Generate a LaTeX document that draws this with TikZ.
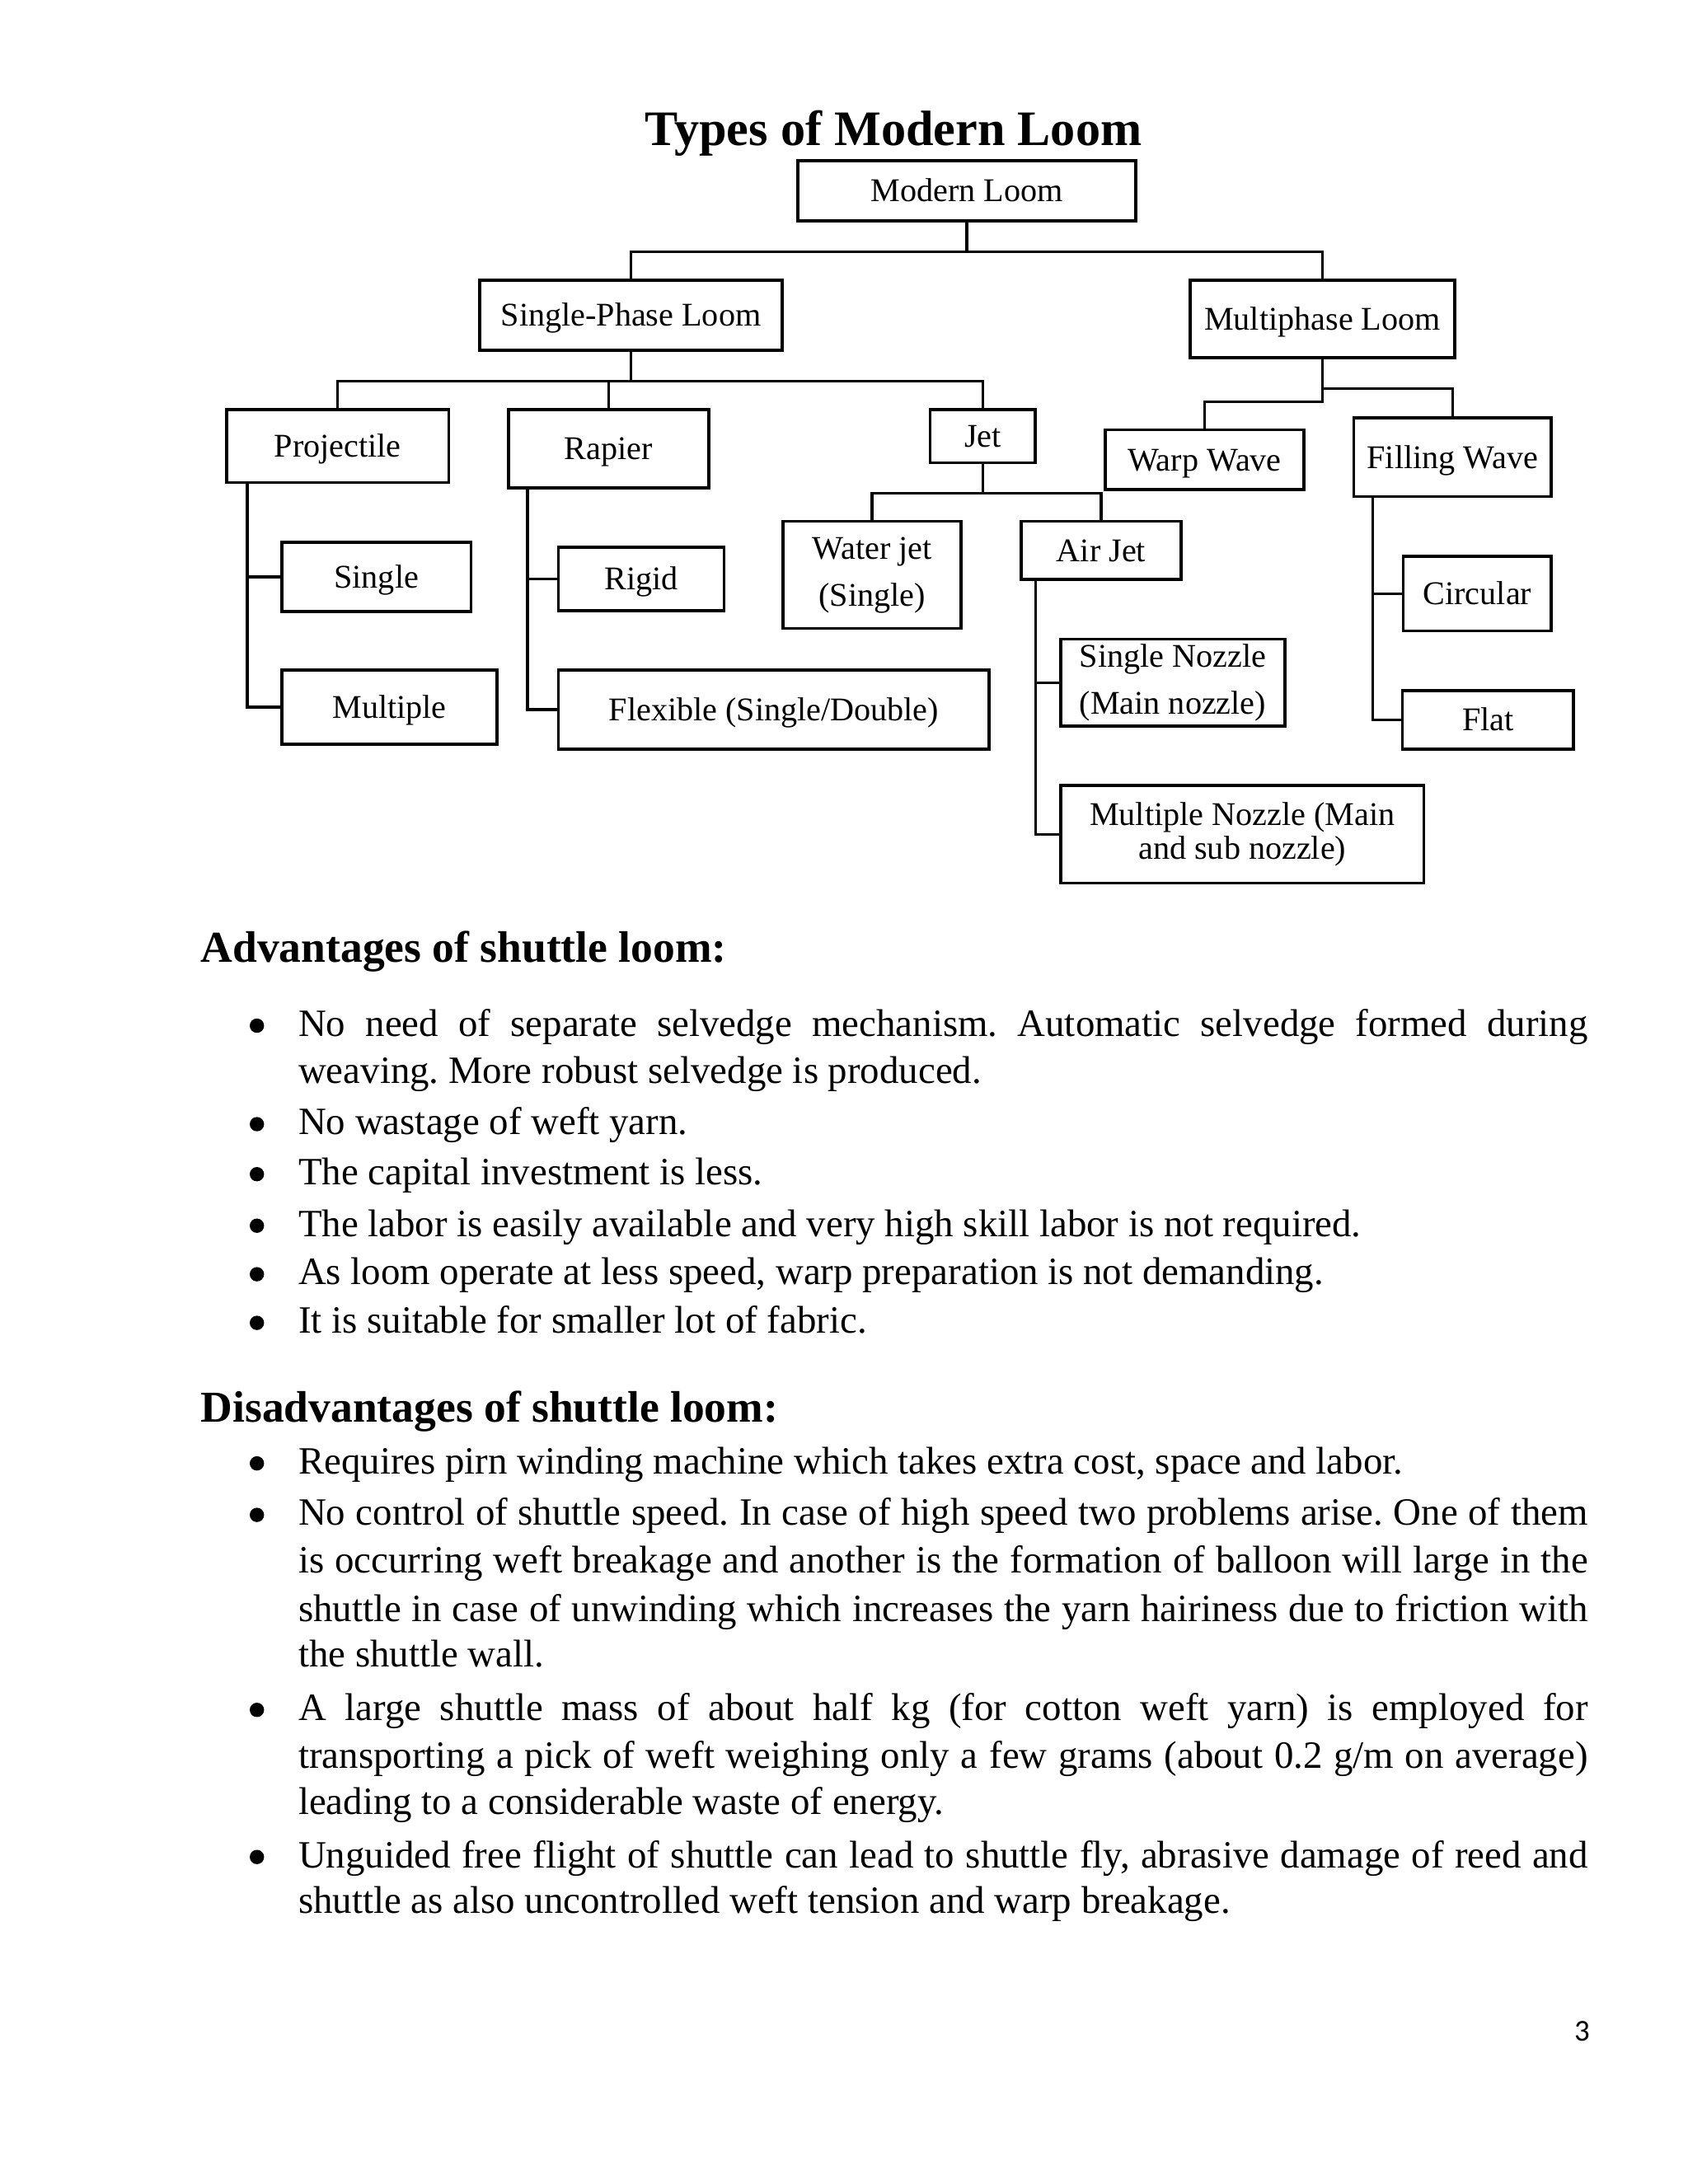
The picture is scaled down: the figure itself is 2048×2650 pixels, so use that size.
\documentclass[tikz,border=0pt]{standalone}
\usepackage{fontspec}
\setmainfont{Liberation Serif}
\newfontfamily\pgnumfont{Carlito}
\newcommand\JL[1]{\makebox[467.5pt][s]{#1}}
\frenchspacing
\begin{document}
\frenchspacing
\begin{tikzpicture}[x=0.298828pt, y=-0.298828pt,
  box/.style={draw, line width=1pt, inner sep=0pt, font=\fontsize{12pt}{17pt}\selectfont},
  one/.style={text height=8pt, text depth=0pt},
  sz/.style 2 args={minimum width={#1*0.298828pt}, minimum height={#2*0.298828pt}},
  conn/.style={line width=1pt},
  ln/.style={anchor=base west, inner sep=0pt, font=\fontsize{14pt}{16pt}\selectfont},
  hd/.style={anchor=base west, inner sep=0pt, font=\bfseries\fontsize{16pt}{18pt}\selectfont},
  bul/.style={circle, fill, inner sep=0pt, minimum size=5.2pt}
]
\fill[white] (0,0) rectangle (2048,2650);
\useasboundingbox (0,0) rectangle (2048,2650);

% title
\node[anchor=base, inner sep=0pt, font=\bfseries\fontsize{18pt}{20pt}\selectfont] (title) at (1084,176.7) {Types of Modern Loom};

% tree boxes
\node[box,one,sz={410}{73}] (ml) at (1173,231.5) {Modern Loom};
\node[box,one,sz={367}{85}] (sp) at (765.5,382.5) {Single-Phase Loom};
\node[box,one,sz={321}{94}] (mp) at (1604.5,387) {Multiphase Loom};
\node[box,one,sz={269.5}{88.7}] (pj) at (409.7,541.3) {Projectile};
\node[box,one,sz={243}{95}] (ra) at (738.5,544.5) {Rapier};
\node[box,one,sz={127.3}{64.7}] (jt) at (1192.3,529.3) {Jet};
\node[box,one,sz={241}{72.3}] (ww) at (1461.5,557.8) {Warp Wave};
\node[box,one,sz={239.5}{95.7}] (fw) at (1762.3,554.8) {Filling Wave};
\node[box,one,sz={229.5}{84}] (si) at (456.7,700) {Single};
\node[box,one,sz={261}{90}] (mu) at (472.5,858) {Multiple};
\node[box,one,sz={201}{77}] (ri) at (778.2,702.5) {Rigid};
\node[box,one,sz={522.3}{96}] (fl) at (938.9,861) {Flexible (Single/Double)};
\node[box,align=center,sz={216}{130}] (wj) at (1058,697.7) {Water jet\\(Single)};
\node[box,one,sz={194}{70.3}] (aj) at (1336,667.9) {Air Jet};
\node[box,align=center,sz={272}{105.3}] (sn) at (1423,828.4) {Single Nozzle\\(Main nozzle)};
\node[box,align=center,font=\fontsize{12pt}{12.5pt}\selectfont,sz={440.5}{118.7}] (mn) at (1507.3,1012.4) {Multiple Nozzle (Main\\and sub nozzle)};
\node[box,one,sz={179.2}{90.7}] (ci) at (1792.4,720.4) {Circular};
\node[box,one,sz={207.4}{71}] (fa) at (1805.3,873.5) {Flat};

% connectors
\draw[conn] (ml.south) -- ++(0,36) -| (sp.north);
\draw[conn] (ml.south) ++(0,36) -| (mp.north);
\draw[conn] (sp.south) -- ++(0,35.7) -| (pj.north);
\draw[conn] (sp.south) ++(0,35.7) -| (ra.north);
\draw[conn] (sp.south) ++(0,35.7) -| (jt.north);
\draw[conn] (jt.south) -- ++(0,35.3) -| (wj.north);
\draw[conn] (jt.south) ++(0,35.3) -| (aj.north);
\draw[conn] (mp.south) -- ++(0,51.7) -| (ww.north);
\draw[conn] (mp.south) ++(0,36) -| (fw.north);
\draw[conn] (pj.south west) ++(26.7,0) |- (si.west);
\draw[conn] (pj.south west) ++(26.7,0) |- (mu.west);
\draw[conn] (ra.south west) ++(24.5,0) |- (ri.west);
\draw[conn] (ra.south west) ++(24.5,0) |- (fl.west);
\draw[conn] (aj.south west) ++(19.4,0) |- (sn.west);
\draw[conn] (aj.south west) ++(19.4,0) |- (mn.west);
\draw[conn] (fw.south west) ++(24.5,0) |- (ci.west);
\draw[conn] (fw.south west) ++(24.5,0) |- (fa.west);

% advantages
\node[hd] (ha) at (243,1167.9) {Advantages of shuttle loom:};
\node[bul] (ba1) at (311.7,1244.5) {};
\node[ln] (a1) at (361.5,1257.1) {\JL{No need of separate selvedge mechanism. Automatic selvedge formed during}};
\node[ln] (a1b) at (361.5,1314.3) {weaving. More robust selvedge is produced.};
\node[bul] (ba2) at (311.7,1364) {};
\node[ln] (a2) at (361.5,1376.8) {No wastage of weft yarn.};
\node[bul] (ba3) at (311.7,1424.7) {};
\node[ln] (a3) at (361.5,1437.5) {The capital investment is less.};
\node[bul] (ba4) at (311.7,1487.2) {};
\node[ln] (a4) at (361.5,1500) {The labor is easily available and very high skill labor is not required.};
\node[bul] (ba5) at (311.7,1546.1) {};
\node[ln] (a5) at (361.5,1558.9) {As loom operate at less speed, warp preparation is not demanding.};
\node[bul] (ba6) at (311.7,1605.1) {};
\node[ln] (a6) at (361.5,1617.9) {It is suitable for smaller lot of fabric.};

% disadvantages
\node[hd] (hdis) at (243,1725.9) {Disadvantages of shuttle loom:};
\node[bul] (bd1) at (311.7,1775.6) {};
\node[ln] (d1) at (361.5,1788.4) {Requires pirn winding machine which takes extra cost, space and labor.};
\node[bul] (bd2) at (311.7,1838.1) {};
\node[ln] (d2) at (361.5,1850.9) {\JL{No control of shuttle speed. In case of high speed two problems arise. One of them}};
\node[ln] (d2b) at (361.5,1908.9) {\JL{is occurring weft breakage and another is the formation of balloon will large in the}};
\node[ln] (d2c) at (361.5,1967) {\JL{shuttle in case of unwinding which increases the yarn hairiness due to friction with}};
\node[ln] (d2d) at (361.5,2022.8) {the shuttle wall.};
\node[bul] (bd3) at (311.7,2074.7) {};
\node[ln] (d3) at (361.5,2087.5) {\JL{A large shuttle mass of about half kg (for cotton weft yarn) is employed for}};
\node[ln] (d3b) at (361.5,2145.5) {\JL{transporting a pick of weft weighing only a few grams (about 0.2 g/m on average)}};
\node[ln] (d3c) at (361.5,2201.3) {leading to a considerable waste of energy.};
\node[bul] (bd4) at (311.7,2253.2) {};
\node[ln] (d4) at (361.5,2266) {\JL{Unguided free flight of shuttle can lead to shuttle fly, abrasive damage of reed and}};
\node[ln] (d4b) at (361.5,2321.9) {shuttle as also uncontrolled weft tension and warp breakage.};

% page number
\node[anchor=base, inner sep=0pt, font=\pgnumfont\fontsize{11pt}{13pt}\selectfont] (pg) at (1919.5,2476) {3};
\end{tikzpicture}
\end{document}
